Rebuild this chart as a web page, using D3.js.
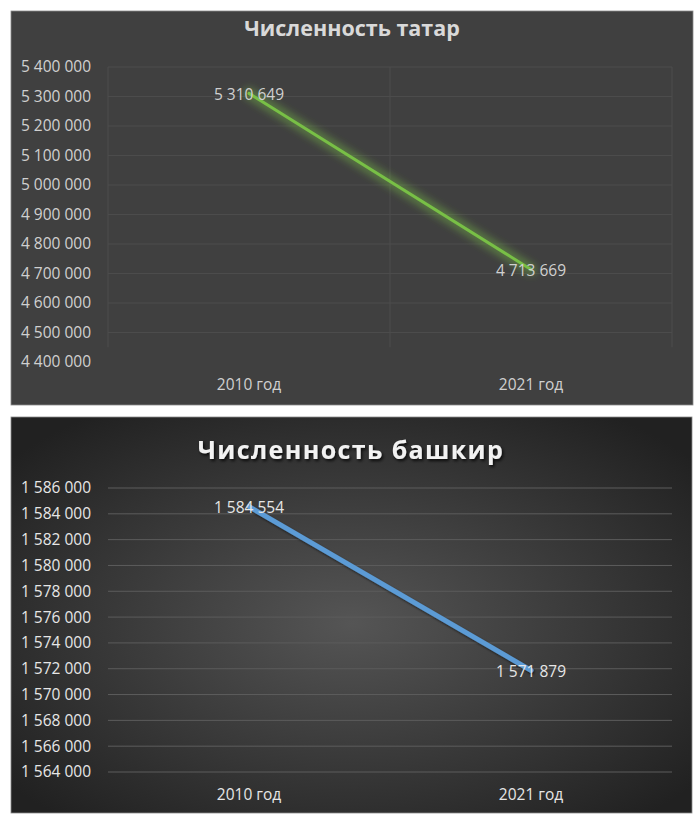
<!DOCTYPE html>
<html>
<head>
<meta charset="utf-8">
<script src="https://cdn.jsdelivr.net/npm/d3@7"></script>
<style>
  html, body { margin: 0; padding: 0; background: #ffffff; }
  svg { display: block; font-family: "Open Sans", "Liberation Sans", sans-serif; }
</style>
</head>
<body>
<svg id="chart" width="700" height="824"></svg>
<script>
// ---------- data ----------
const categories = ["2010 год", "2021 год"];

const tatarTitle = "Численность татар";
const tatarValues = [5310649, 4713669];
const tatarTicks = [4400000, 4500000, 4600000, 4700000, 4800000, 4900000,
                    5000000, 5100000, 5200000, 5300000, 5400000];

const bashTitle = "Численность башкир";
const bashValues = [1584554, 1571879];
const bashTicks = [1564000, 1566000, 1568000, 1570000, 1572000, 1574000,
                   1576000, 1578000, 1580000, 1582000, 1584000, 1586000];

// ---------- helpers ----------
const fmt = v => d3.format(",")(v).replace(/,/g, " ");
const svg = d3.select("#chart");
const defs = svg.append("defs");

const glow = defs.append("filter").attr("id", "glow")
  .attr("x", "-20%").attr("y", "-20%").attr("width", "140%").attr("height", "140%");
glow.append("feGaussianBlur").attr("stdDeviation", 3.5);

const tsh = defs.append("filter").attr("id", "tshadow")
  .attr("x", "-10%").attr("y", "-30%").attr("width", "120%").attr("height", "160%");
tsh.append("feDropShadow").attr("dx", 1.5).attr("dy", 2).attr("stdDeviation", 1.5)
  .attr("flood-color", "#000").attr("flood-opacity", 0.8);

const lsh = defs.append("filter").attr("id", "lshadow")
  .attr("x", "-10%").attr("y", "-10%").attr("width", "120%").attr("height", "120%");
lsh.append("feDropShadow").attr("dx", 1).attr("dy", 1.5).attr("stdDeviation", 1)
  .attr("flood-color", "#000").attr("flood-opacity", 0.6);

const rg = defs.append("radialGradient").attr("id", "bgRadial")
  .attr("cx", "50%").attr("cy", "52%").attr("r", "65%");
rg.append("stop").attr("offset", "0%").attr("stop-color", "#555555");
rg.append("stop").attr("offset", "100%").attr("stop-color", "#212121");

function drawChart(opt) {
  const g = svg.append("g");
  g.append("rect")
    .attr("x", opt.panel.x).attr("y", opt.panel.y)
    .attr("width", opt.panel.w).attr("height", opt.panel.h)
    .attr("fill", opt.panelFill)
    .attr("stroke", "#8a8a8a").attr("stroke-width", 0.8);

  const x = d3.scaleBand().domain(categories).range([opt.plot.left, opt.plot.right]).padding(0);
  const y = d3.scaleLinear().domain(opt.domain).range([opt.plot.bottom, opt.plot.top]);
  const cx = d => x(d) + x.bandwidth() / 2;

  g.append("g").selectAll("line")
    .data(opt.ticks.filter(t => opt.gridBottom || t !== opt.domain[0]))
    .join("line")
    .attr("x1", opt.plot.left).attr("x2", opt.plot.right)
    .attr("y1", d => y(d)).attr("y2", d => y(d))
    .attr("stroke", opt.gridColor).attr("stroke-width", 1);

  if (opt.vgrid) {
    const bounds = categories.map(c => x(c)).concat([x(categories[categories.length - 1]) + x.bandwidth()]);
    g.append("g").selectAll("line").data(bounds).join("line")
      .attr("x1", d => d).attr("x2", d => d)
      .attr("y1", y(opt.domain[1])).attr("y2", y(opt.vgridEnd))
      .attr("stroke", opt.gridColor).attr("stroke-width", 1);
  }

  const yAxis = d3.axisLeft(y).tickValues(opt.ticks).tickSize(0).tickPadding(0).tickFormat(fmt);
  const ya = g.append("g").attr("transform", `translate(${opt.yLabelX},0)`).call(yAxis);
  ya.select(".domain").remove();
  ya.selectAll("text")
    .attr("fill", opt.textColor)
    .style("font-size", "15.5px")
    .style("font-family", "'Open Sans', sans-serif");

  const xAxis = d3.axisBottom(x).tickSize(0).tickPadding(0);
  const xa = g.append("g").attr("transform", `translate(0,${opt.xLabelY})`).call(xAxis);
  xa.select(".domain").remove();
  xa.selectAll("text")
    .attr("fill", opt.textColor)
    .attr("dy", "0.35em")
    .attr("y", 0)
    .style("font-size", "15.5px")
    .style("font-family", "'Open Sans', sans-serif");

  const line = d3.line().x((d, i) => cx(categories[i])).y(d => y(d));
  if (opt.glow) {
    g.append("path").datum(opt.values).attr("d", line)
      .attr("fill", "none").attr("stroke", opt.lineColor)
      .attr("stroke-width", 12).attr("stroke-opacity", 0.4)
      .attr("stroke-linecap", "round")
      .attr("filter", "url(#glow)");
  }
  g.append("path").datum(opt.values).attr("d", line)
    .attr("fill", "none").attr("stroke", opt.lineColor)
    .attr("stroke-width", opt.lineWidth)
    .attr("stroke-linecap", "round")
    .attr("filter", opt.glow ? null : "url(#lshadow)");

  g.append("g").selectAll("text").data(opt.values).join("text")
    .attr("x", (d, i) => cx(categories[i]))
    .attr("y", d => y(d) + 1)
    .attr("dy", "0.35em")
    .attr("text-anchor", "middle")
    .attr("fill", opt.textColor)
    .style("font-size", "15.5px")
    .text(fmt);

  g.append("text")
    .attr("x", opt.titleX).attr("y", opt.titleY)
    .attr("text-anchor", "middle")
    .attr("fill", opt.titleColor)
    .style("font-size", opt.titleSize + "px")
    .style("font-weight", "bold")
    .style("letter-spacing", opt.titleSpacing + "px")
    .attr("filter", opt.titleShadow ? "url(#tshadow)" : null)
    .text(opt.title);
}

drawChart({
  panel: { x: 11, y: 11, w: 682, h: 394 },
  panelFill: "#404040",
  plot: { left: 108, right: 672, top: 67, bottom: 362 },
  domain: [4400000, 5400000],
  ticks: tatarTicks,
  values: tatarValues,
  gridColor: "#4c4c4c",
  gridBottom: false,
  vgrid: true,
  vgridEnd: 4450000,
  yLabelX: 91,
  xLabelY: 385,
  textColor: "#d0d0d0",
  lineColor: "#78bf46",
  lineWidth: 3,
  glow: true,
  title: tatarTitle,
  titleX: 352, titleY: 36,
  titleSize: 21.5, titleSpacing: 0,
  titleColor: "#d9d9d9",
  titleShadow: false
});

drawChart({
  panel: { x: 11, y: 417, w: 681, h: 396 },
  panelFill: "url(#bgRadial)",
  plot: { left: 108, right: 672, top: 488, bottom: 772 },
  domain: [1564000, 1586000],
  ticks: bashTicks,
  values: bashValues,
  gridColor: "#5c5c5c",
  gridBottom: true,
  vgrid: false,
  yLabelX: 91,
  xLabelY: 795,
  textColor: "#e6e6e6",
  lineColor: "#5b9bd5",
  lineWidth: 5,
  glow: false,
  title: bashTitle,
  titleX: 351, titleY: 459,
  titleSize: 25, titleSpacing: 1.4,
  titleColor: "#f2f2f2",
  titleShadow: true
});
</script>
</body>
</html>
